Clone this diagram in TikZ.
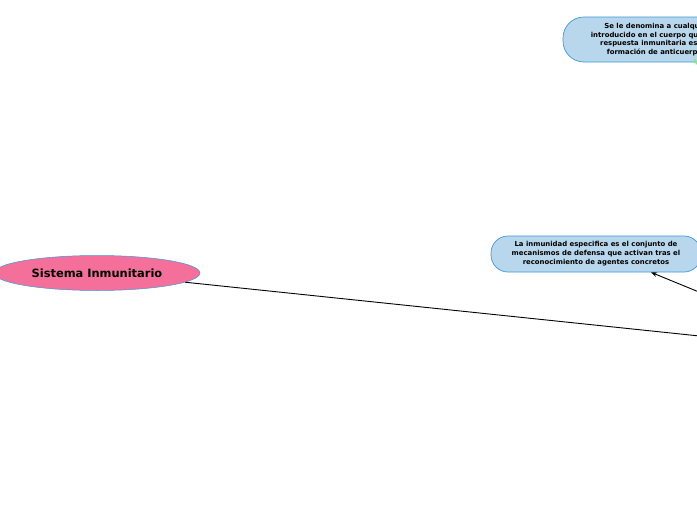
\documentclass[tikz,border=0pt]{standalone}
\usepackage{fontspec}
\setmainfont{DejaVu Sans}
\usetikzlibrary{arrows.meta}
\usetikzlibrary{positioning, shapes.geometric}
\definecolor{rosa}{HTML}{F4709B}
\definecolor{celeste}{HTML}{B9D7EC}
\definecolor{borde}{HTML}{3B99DB}
\definecolor{verde}{HTML}{8FE08F}

\begin{document}
\begin{tikzpicture}[x=1pt,y=-1pt,
	raiz/.style={ellipse,draw=borde,line width=0.5pt,fill=rosa,minimum width=206pt,minimum height=35pt,inner sep=0pt,font=\fontsize{11.4}{13}\selectfont\bfseries},
	hoja/.style={rectangle,rounded corners=17pt,draw=borde,line width=0.7pt,fill=celeste,align=center,inner sep=0pt,font=\fontsize{6.9}{9}\selectfont\bfseries}] 
			\useasboundingbox (0,0) rectangle (697,520);
			\clip (0,0) rectangle (697,520);
			\fill[white] (0,0) rectangle (697,520);
			\coordinate (centro) at (843,351);
			\node[raiz] (sistema) at (97,273) {Sistema Inmunitario}; 
			\node[hoja,minimum width=210pt,minimum height=36pt] (especifica) at (596,254) {La inmunidad especifica es el conjunto de\\ mecanismos de defensa que activan tras el\\ reconocimiento de agentes concretos}; 
			\node[hoja,rounded corners=21pt,minimum width=260pt,minimum height=45pt,font=\fontsize{6.9}{8.7}\selectfont\bfseries] (antigeno) at (693,39.5) {Se le denomina a cualquier elemento extra\~no\\ introducido en el cuerpo que desencadena una clara\\ respuesta inmunitaria espec\'ifica, como es la de\\ formaci\'on de anticuerpos, llamado ant\'igeno}; 
			\draw[line width=0.9pt] (centro) -- (sistema);
			\draw[-{Stealth[length=6pt,width=4.5pt]},line width=0.9pt] (centro) -- ([xshift=55pt]especifica.south);
			\draw[-{Stealth[length=6pt,width=4.5pt]},line width=0.9pt,verde] (centro) -- ([xshift=1pt,yshift=4pt]antigeno.south);
		\end{tikzpicture}
\end{document}
